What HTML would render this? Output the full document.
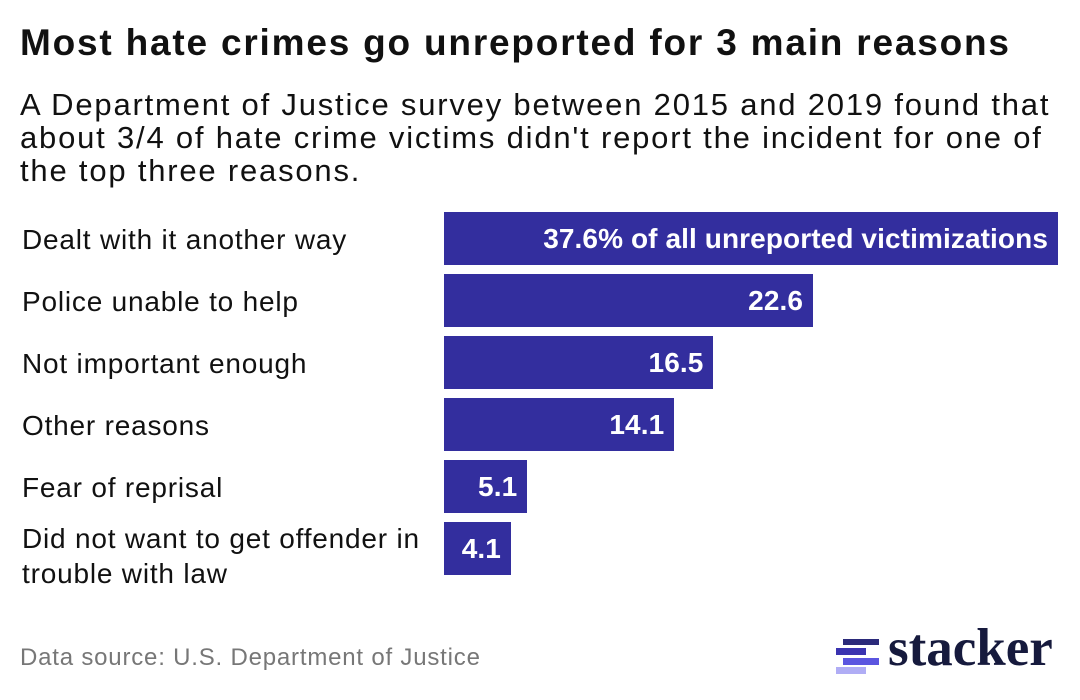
<!DOCTYPE html>
<html><head><meta charset="utf-8"><style>
body{margin:0;width:1080px;height:700px;background:#fff;font-family:"Liberation Sans",sans-serif;position:relative;overflow:hidden}
.t{position:absolute;left:20px;top:22px;font-size:37px;letter-spacing:1.8px;font-weight:bold;color:#111;white-space:nowrap}
.s{position:absolute;left:20px;top:88px;font-size:31px;letter-spacing:1.8px;line-height:33px;color:#111;white-space:nowrap}
.lab{position:absolute;left:22px;font-size:28px;letter-spacing:0.8px;color:#111;line-height:35px;white-space:nowrap}
.bar{position:absolute;left:444px;height:53px;background:#332e9e}
.val{position:absolute;right:10px;top:0;line-height:53px;color:#fff;font-size:28px;letter-spacing:0.1px;font-weight:bold;white-space:nowrap}
.src{position:absolute;left:20px;top:644px;font-size:24px;letter-spacing:0.8px;color:#777;white-space:nowrap}
</style></head><body>
<div class="t">Most hate crimes go unreported for 3 main reasons</div>
<div class="s">A Department of Justice survey between 2015 and 2019 found that<br>about 3/4 of hate crime victims didn't report the incident for one of<br>the top three reasons.</div>
<div id="chart"></div>
<div class="src">Data source: U.S. Department of Justice</div>
<div style="position:absolute;left:836px;top:636px;width:240px;height:45px">
<div style="position:absolute;left:7px;top:3px;width:36px;height:6px;background:#2b2a7a"></div>
<div style="position:absolute;left:0;top:12px;width:30px;height:7px;background:#3a33b0"></div>
<div style="position:absolute;left:7px;top:22px;width:36px;height:7px;background:#5b55e0"></div>
<div style="position:absolute;left:0;top:31px;width:30px;height:7px;background:#b0adf5"></div>
<div style="position:absolute;left:52px;top:-18px;font-family:'Liberation Serif',serif;font-weight:bold;font-size:53px;color:#161a3d">stacker</div>
</div>
<script>
const categories=["Dealt with it another way","Police unable to help","Not important enough","Other reasons","Fear of reprisal","Did not want to get offender in trouble with law"];
const values=[37.6,22.6,16.5,14.1,5.1,4.1];
const valueLabels=["37.6% of all unreported victimizations","22.6","16.5","14.1","5.1","4.1"];
const chart=document.getElementById('chart');
const x=v=>v*614/37.6;
categories.forEach((c,i)=>{
  const top=212+i*62;
  const l=document.createElement('div');
  l.className='lab';
  
  
  if(i===5){l.innerHTML='Did not want to get offender in<br>trouble with law';l.style.top=(top-1)+'px';}
  else{l.textContent=c;l.style.top=(top+10)+'px';}
  chart.appendChild(l);
  const b=document.createElement('div');
  b.className='bar';
  
  
  b.style.top=top+'px';b.style.width=x(values[i])+'px';
  const v=document.createElement('div');
  v.className='val';
  
  
  v.textContent=valueLabels[i];
  b.appendChild(v);chart.appendChild(b);
});
</script>
</body></html>
